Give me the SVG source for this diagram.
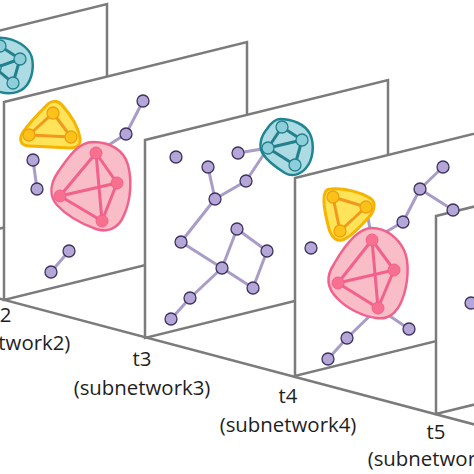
<svg xmlns="http://www.w3.org/2000/svg" width="474" height="474" viewBox="0 0 474 474">
<style>
.frame{fill:#fff;stroke:#7b7b7b;stroke-width:2.5;stroke-linejoin:miter}
.axis{stroke:#7b7b7b;stroke-width:2.5;fill:none}
.pe{stroke:#a99cc9;stroke-width:3;stroke-linecap:round}
.te{stroke:#23808c;stroke-width:3}
.ye{stroke:#f2981c;stroke-width:3}
.ke{stroke:#f2618c;stroke-width:3}
.pn{fill:#b4a6d6;stroke:#3e3160;stroke-width:1.3}
.tn{fill:#8ccfdb;stroke:#23808c;stroke-width:1.3}
.yn{fill:#fcc21b;stroke:#efa00a;stroke-width:1.3}
.kn{fill:#f7708f;stroke:#f2618c;stroke-width:1}
.tb{fill:#acdbe4;stroke:#1f8591;stroke-width:2.5}
.yb{fill:#ffe45a;stroke:#f6b400;stroke-width:3}
.kb{fill:#f9bdc7;stroke:#f2618c;stroke-width:2.5}
.lbl{font-family:"Open Sans","Liberation Sans",sans-serif;font-size:20.4px;fill:#1e1e1e;text-anchor:middle}
</style>
<g id="frames">
<polygon class="frame" points="-136,64 107,4 107,202 -136,262"/>
<polygon class="frame" points="4,102 247,42 247,240 4,300"/>
<polygon class="frame" points="145,140 388,80 388,278 145,338"/>
<polygon class="frame" points="295,178 538,118 538,316 295,376"/>
<polygon class="frame" points="436,216 679,156 679,354 436,414"/>
<line class="axis" x1="-150" y1="259" x2="480" y2="426"/>
</g>
<g id="connectors">
<line class="pe" x1="143" y1="101" x2="126" y2="134"/>
<line class="pe" x1="126" y1="134" x2="96" y2="153"/>
<line class="pe" x1="33" y1="160" x2="37" y2="189"/>
<line class="pe" x1="69" y1="251" x2="51" y2="272"/>
<line class="pe" x1="238" y1="153" x2="268" y2="148"/>
<line class="pe" x1="246" y1="181" x2="268" y2="148"/>
<line class="pe" x1="208" y1="167" x2="215" y2="199"/>
<line class="pe" x1="246" y1="181" x2="215" y2="199"/>
<line class="pe" x1="215" y1="199" x2="181" y2="242"/>
<line class="pe" x1="181" y1="242" x2="222" y2="268"/>
<line class="pe" x1="237" y1="229" x2="222" y2="268"/>
<line class="pe" x1="237" y1="229" x2="267" y2="251"/>
<line class="pe" x1="267" y1="251" x2="253" y2="288"/>
<line class="pe" x1="222" y1="268" x2="253" y2="288"/>
<line class="pe" x1="222" y1="268" x2="190" y2="298"/>
<line class="pe" x1="190" y1="298" x2="171" y2="319"/>
<line class="pe" x1="443" y1="167" x2="420" y2="189"/>
<line class="pe" x1="420" y1="189" x2="453" y2="210"/>
<line class="pe" x1="420" y1="189" x2="403" y2="222"/>
<line class="pe" x1="403" y1="222" x2="372" y2="240"/>
<line class="pe" x1="366" y1="207" x2="372" y2="240"/>
<line class="pe" x1="378" y1="308" x2="409" y2="329"/>
<line class="pe" x1="378" y1="308" x2="347" y2="338"/>
<line class="pe" x1="347" y1="338" x2="328" y2="359"/>
</g>
<g id="clusters">
<path class="tb" d="M -10,39 C 5,35 20,41 28,50 C 35,58 34,75 27,85 C 20,94 8,95 -3,91 Z"/>
<path class="yb" d="M 46,106 C 51,100 57,100 62,105 C 70,114 78,126 80,138 C 81,145 77,148 70,148 L 30,146 C 21,146 18,140 23,132 C 30,122 38,114 46,106 Z"/>
<path class="kb" d="M 93,142 C 110,142 124,150 128,165 C 132,180 131,200 124,215 C 119,228 108,233 96,229 C 82,224 66,215 57,205 C 49,196 50,184 58,172 C 68,158 78,142 93,142 Z"/>
<path class="tb" d="M 280,119 C 292,119 305,124 310,134 C 315,145 313,160 306,168 C 300,175 292,177 285,173 C 277,168 268,162 263,154 C 258,146 261,136 267,129 C 271,123 275,119 280,119 Z"/>
<path class="yb" d="M 331,189 C 345,188 360,192 370,198 C 377,203 374,212 368,218 C 360,227 350,238 342,240 C 334,242 330,234 328,225 C 325,213 322,200 325,193 C 326,190 328,189 331,189 Z"/>
<path class="kb" d="M 372,228 C 386,228 398,238 404,250 C 410,263 408,285 402,300 C 397,313 388,320 376,318 C 362,316 346,308 337,298 C 327,288 326,276 334,264 C 342,250 356,228 372,228 Z"/>
</g>
<g id="cluster-connectors">
<line class="te" x1="0" y1="46" x2="20" y2="59"/>
<line class="te" x1="-5" y1="68" x2="20" y2="59"/>
<line class="te" x1="20" y1="59" x2="13" y2="83"/>
<line class="te" x1="13" y1="83" x2="-5" y2="68"/>
<line class="ye" x1="53" y1="113" x2="29" y2="135"/>
<line class="ye" x1="53" y1="113" x2="71" y2="137"/>
<line class="ye" x1="29" y1="135" x2="71" y2="137"/>
<line class="ke" x1="96" y1="153" x2="117" y2="183"/>
<line class="ke" x1="96" y1="153" x2="60" y2="196"/>
<line class="ke" x1="96" y1="153" x2="102" y2="221"/>
<line class="ke" x1="60" y1="196" x2="117" y2="183"/>
<line class="ke" x1="60" y1="196" x2="102" y2="221"/>
<line class="ke" x1="117" y1="183" x2="102" y2="221"/>
<line class="te" x1="282" y1="127" x2="302" y2="140"/>
<line class="te" x1="282" y1="127" x2="268" y2="148"/>
<line class="te" x1="268" y1="148" x2="302" y2="140"/>
<line class="te" x1="302" y1="140" x2="295" y2="165"/>
<line class="te" x1="268" y1="148" x2="295" y2="165"/>
<line class="ye" x1="333" y1="197" x2="366" y2="207"/>
<line class="ye" x1="333" y1="197" x2="340" y2="231"/>
<line class="ye" x1="366" y1="207" x2="340" y2="231"/>
<line class="ke" x1="372" y1="240" x2="394" y2="270"/>
<line class="ke" x1="372" y1="240" x2="338" y2="283"/>
<line class="ke" x1="372" y1="240" x2="378" y2="308"/>
<line class="ke" x1="338" y1="283" x2="394" y2="270"/>
<line class="ke" x1="338" y1="283" x2="378" y2="308"/>
<line class="ke" x1="394" y1="270" x2="378" y2="308"/>
</g>
<g id="nodes-t1">
<g id="t1-a"><circle class="tn" cx="0" cy="46" r="6"/></g>
<g id="t1-b"><circle class="tn" cx="20" cy="59" r="6"/></g>
<g id="t1-c"><circle class="tn" cx="13" cy="83" r="6"/></g>
<g id="t1-d"><circle class="tn" cx="-5" cy="68" r="6"/></g>
</g>
<g id="nodes-t2">
<g id="t2-y1"><circle class="yn" cx="53" cy="113" r="6"/></g>
<g id="t2-y2"><circle class="yn" cx="29" cy="135" r="6"/></g>
<g id="t2-y3"><circle class="yn" cx="71" cy="137" r="6"/></g>
<g id="t2-k1"><circle class="kn" cx="96" cy="153" r="6"/></g>
<g id="t2-k2"><circle class="kn" cx="117" cy="183" r="6"/></g>
<g id="t2-k3"><circle class="kn" cx="60" cy="196" r="6"/></g>
<g id="t2-k4"><circle class="kn" cx="102" cy="221" r="6"/></g>
<g id="t2-p1"><circle class="pn" cx="143" cy="101" r="6"/></g>
<g id="t2-p2"><circle class="pn" cx="126" cy="134" r="6"/></g>
<g id="t2-p3"><circle class="pn" cx="33" cy="160" r="6"/></g>
<g id="t2-p4"><circle class="pn" cx="37" cy="189" r="6"/></g>
<g id="t2-p5"><circle class="pn" cx="69" cy="251" r="6"/></g>
<g id="t2-p6"><circle class="pn" cx="51" cy="272" r="6"/></g>
</g>
<g id="nodes-t3">
<g id="t3-t1"><circle class="tn" cx="282" cy="127" r="6"/></g>
<g id="t3-t2"><circle class="tn" cx="302" cy="140" r="6"/></g>
<g id="t3-t3"><circle class="tn" cx="268" cy="148" r="6"/></g>
<g id="t3-t4"><circle class="tn" cx="295" cy="165" r="6"/></g>
<g id="t3-p1"><circle class="pn" cx="176" cy="157" r="6"/></g>
<g id="t3-p2"><circle class="pn" cx="238" cy="153" r="6"/></g>
<g id="t3-p3"><circle class="pn" cx="208" cy="167" r="6"/></g>
<g id="t3-p4"><circle class="pn" cx="246" cy="181" r="6"/></g>
<g id="t3-p5"><circle class="pn" cx="215" cy="199" r="6"/></g>
<g id="t3-p6"><circle class="pn" cx="181" cy="242" r="6"/></g>
<g id="t3-p7"><circle class="pn" cx="237" cy="229" r="6"/></g>
<g id="t3-p8"><circle class="pn" cx="267" cy="251" r="6"/></g>
<g id="t3-p9"><circle class="pn" cx="222" cy="268" r="6"/></g>
<g id="t3-p10"><circle class="pn" cx="253" cy="288" r="6"/></g>
<g id="t3-p11"><circle class="pn" cx="190" cy="298" r="6"/></g>
<g id="t3-p12"><circle class="pn" cx="171" cy="319" r="6"/></g>
</g>
<g id="nodes-t4">
<g id="t4-y1"><circle class="yn" cx="333" cy="197" r="6"/></g>
<g id="t4-y2"><circle class="yn" cx="366" cy="207" r="6"/></g>
<g id="t4-y3"><circle class="yn" cx="340" cy="231" r="6"/></g>
<g id="t4-k1"><circle class="kn" cx="372" cy="240" r="6"/></g>
<g id="t4-k2"><circle class="kn" cx="394" cy="270" r="6"/></g>
<g id="t4-k3"><circle class="kn" cx="338" cy="283" r="6"/></g>
<g id="t4-k4"><circle class="kn" cx="378" cy="308" r="6"/></g>
<g id="t4-p1"><circle class="pn" cx="443" cy="167" r="6"/></g>
<g id="t4-p2"><circle class="pn" cx="420" cy="189" r="6"/></g>
<g id="t4-p3"><circle class="pn" cx="453" cy="210" r="6"/></g>
<g id="t4-p4"><circle class="pn" cx="403" cy="222" r="6"/></g>
<g id="t4-p5"><circle class="pn" cx="311" cy="248" r="6"/></g>
<g id="t4-p6"><circle class="pn" cx="409" cy="329" r="6"/></g>
<g id="t4-p7"><circle class="pn" cx="347" cy="338" r="6"/></g>
<g id="t4-p8"><circle class="pn" cx="328" cy="359" r="6"/></g>
</g>
<g id="nodes-t5">
<g id="t5-p1"><circle class="pn" cx="471" cy="303" r="6"/></g>
</g>
<g id="labels">
<text class="lbl" x="2" y="322">t2</text>
<text class="lbl" x="2" y="350">(subnetwork2)</text>
<text class="lbl" x="142" y="366">t3</text>
<text class="lbl" x="142" y="395">(subnetwork3)</text>
<text class="lbl" x="288" y="403">t4</text>
<text class="lbl" x="288" y="432">(subnetwork4)</text>
<text class="lbl" x="436" y="439">t5</text>
<text class="lbl" x="436" y="466">(subnetwork5)</text>
</g>
</svg>
